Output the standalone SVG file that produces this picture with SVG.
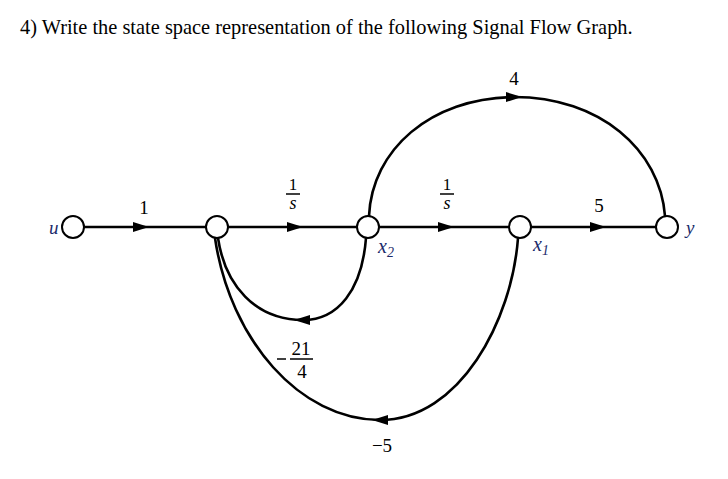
<svg xmlns="http://www.w3.org/2000/svg" width="728" height="479" viewBox="0 0 728 479">
<defs>
<style>
.e{fill:none;stroke:#000;stroke-width:2.6}
.n{fill:#fff;stroke:#000;stroke-width:2}
.t{font-family:"Liberation Serif",serif;fill:#000}
.v{font-family:"Liberation Serif",serif;font-style:italic;fill:#1a2a6a}
.fl{stroke:#000;stroke-width:1.5}
</style>
</defs>
<rect width="728" height="479" fill="#fff"/>
<text class="t" x="20" y="34" font-size="20.4">4)  Write the state space representation of the following Signal Flow Graph.</text>
<g id="connectors">
<path class="e" d="M84,227 L206,227"/>
<path d="M133,222 L149,227 L133,232 z"/>
<path class="e" d="M228,227 L357,227"/>
<path d="M287,222 L303,227 L287,232 z"/>
<path class="e" d="M379,227 L509,227"/>
<path d="M438,222 L454,227 L438,232 z"/>
<path class="e" d="M531,227 L656,227"/>
<path d="M590,222 L606,227 L590,232 z"/>
<path class="e" d="M369,216 C372,150 430,98 514,97 C600,97 660,150 665,216"/>
<path d="M506,92 L522,97 L506,102 z"/>
<path class="e" d="M366,238 C362,290 338,320 303,320 C255,320 225,285 218,238"/>
<path d="M310,315 L294,320 L310,325 z"/>
<path class="e" d="M518,238 C512,320 460,420 380,420 C300,420 230,340 215,238"/>
<path d="M388,415 L372,420 L388,425 z"/>
</g>
<g id="node-u"><circle class="n" cx="73" cy="227" r="11"/><text class="v" x="49" y="234" font-size="19">u</text></g>
<g id="node-1"><circle class="n" cx="217" cy="227" r="11"/></g>
<g id="node-x2"><circle class="n" cx="368" cy="227" r="11"/><text class="v" x="378" y="253" font-size="20">x<tspan font-size="14" dy="4">2</tspan></text></g>
<g id="node-x1"><circle class="n" cx="520" cy="227" r="11"/><text class="v" x="533" y="251" font-size="20">x<tspan font-size="14" dy="4">1</tspan></text></g>
<g id="node-y"><circle class="n" cx="667" cy="227" r="11"/><text class="v" x="686" y="234" font-size="19">y</text></g>
<g id="labels">
<text class="t" x="144" y="214" font-size="19" text-anchor="middle">1</text>
<text class="t" x="293" y="190" font-size="17" text-anchor="middle">1</text>
<line class="fl" x1="286" y1="194" x2="300" y2="194"/>
<text class="t" x="293" y="209" font-size="18" font-style="italic" text-anchor="middle">s</text>
<text class="t" x="447" y="190" font-size="17" text-anchor="middle">1</text>
<line class="fl" x1="440" y1="194" x2="454" y2="194"/>
<text class="t" x="447" y="209" font-size="18" font-style="italic" text-anchor="middle">s</text>
<text class="t" x="599" y="212" font-size="19" text-anchor="middle">5</text>
<text class="t" x="514" y="85" font-size="19" text-anchor="middle">4</text>
<line class="fl" x1="277" y1="359" x2="286" y2="359"/>
<text class="t" x="301" y="355" font-size="19" text-anchor="middle">21</text>
<line class="fl" x1="290" y1="359" x2="313" y2="359"/>
<text class="t" x="302" y="378" font-size="19" text-anchor="middle">4</text>
<text class="t" x="382" y="452" font-size="19" text-anchor="middle">−5</text>
</g>
</svg>
